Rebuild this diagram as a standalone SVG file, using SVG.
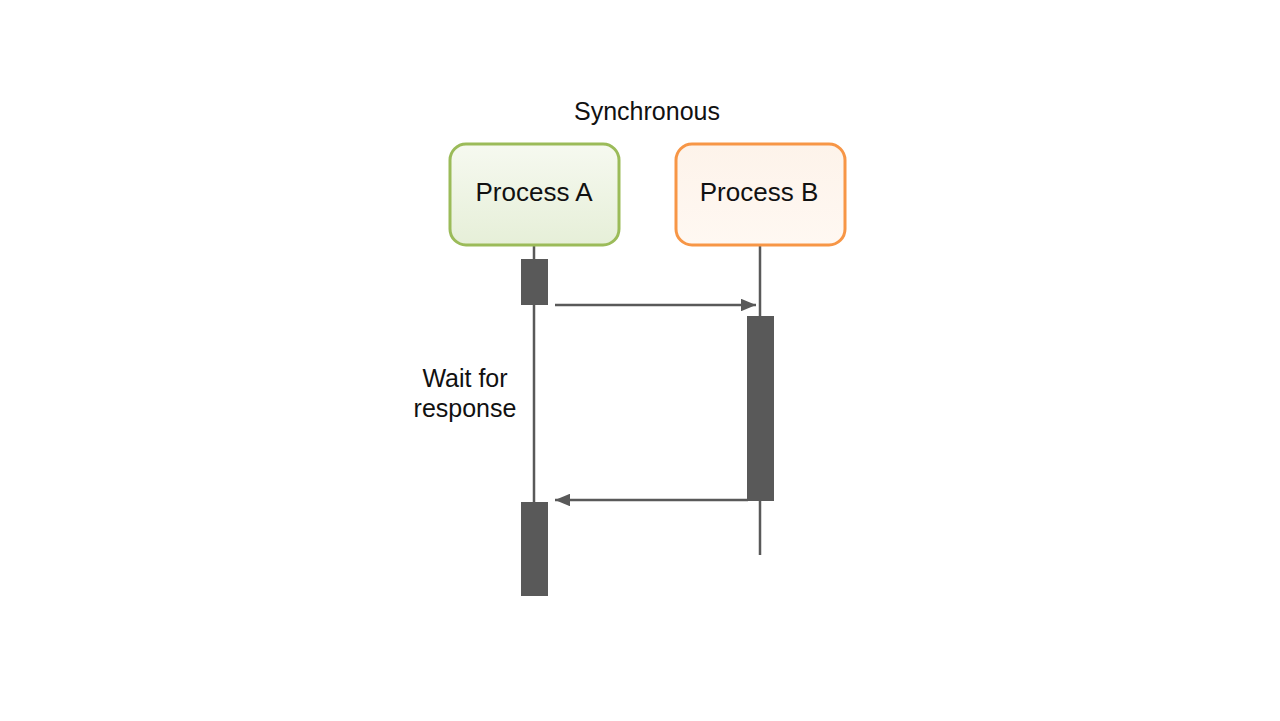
<svg xmlns="http://www.w3.org/2000/svg" width="1280" height="721" viewBox="0 0 1280 721">
<style>
text{font-family:"Liberation Sans",Arial,sans-serif;fill:#111}
.node text{font-size:26px}
.bar{fill:#595959}
.line{stroke:#595959;stroke-width:2.5;fill:none}
</style>
<defs>
<linearGradient id="ga" x1="0" y1="0" x2="0" y2="1"><stop offset="0" stop-color="#f6f9f0"/><stop offset="1" stop-color="#e6efd8"/></linearGradient>
<linearGradient id="gb" x1="0" y1="0" x2="0" y2="1"><stop offset="0" stop-color="#fdf3ea"/><stop offset="1" stop-color="#fff8f2"/></linearGradient>
<marker id="ah" viewBox="0 0 12 10" refX="12" refY="5" markerWidth="6" markerHeight="5" markerUnits="strokeWidth" orient="auto"><path d="M0,0L12,5L0,10z" fill="#595959"/></marker>
</defs>
<rect width="1280" height="721" fill="#fff"/>
<text x="647" y="120" text-anchor="middle" font-size="25">Synchronous</text>
<g id="connectors">
<line class="line" x1="534" y1="245" x2="534" y2="595"/>
<line class="line" x1="760" y1="245" x2="760" y2="555"/>
<line class="line" x1="555" y1="305" x2="756" y2="305" marker-end="url(#ah)"/>
<line class="line" x1="748" y1="500" x2="555" y2="500" marker-end="url(#ah)"/>
</g>
<g id="processA" class="node"><rect x="450" y="144" width="169" height="101" rx="16" fill="url(#ga)" stroke="#9bbb59" stroke-width="3"/><text x="534" y="201" text-anchor="middle">Process A</text></g>
<g id="processB" class="node"><rect x="676" y="144" width="169" height="101" rx="16" fill="url(#gb)" stroke="#f79646" stroke-width="3"/><text x="759" y="201" text-anchor="middle">Process B</text></g>
<g id="bars">
<rect class="bar" x="521" y="259" width="27" height="46"/>
<rect class="bar" x="747" y="316" width="27" height="185"/>
<rect class="bar" x="521" y="502" width="27" height="94"/>
</g>
<text x="465" y="387" text-anchor="middle" font-size="25">Wait for</text>
<text x="465" y="417" text-anchor="middle" font-size="25">response</text>
</svg>
